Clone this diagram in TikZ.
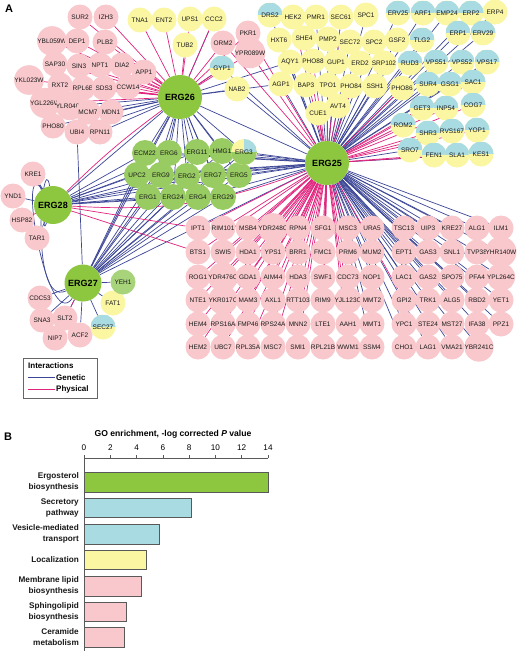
\documentclass[tikz,border=0pt]{standalone}
\usepackage{fontspec}
\setmainfont{Liberation Sans}
\usetikzlibrary{backgrounds}
\pgfdeclarelayer{edges}
\pgfsetlayers{background,edges,main}
\definecolor{cpk}{HTML}{F8C8CC}
\definecolor{cyl}{HTML}{FAF6A2}
\definecolor{ccy}{HTML}{A8DBE2}
\definecolor{cgr}{HTML}{8DC63F}
\definecolor{cgrl}{HTML}{98CB62}
\definecolor{cgen}{HTML}{3C4696}
\definecolor{cphy}{HTML}{E1237D}
\begin{document}
\begin{tikzpicture}[x=1pt,y=-1pt,
 gn/.style={circle,inner sep=0pt,minimum size=25pt,font=\fontsize{6.5}{7}\selectfont,text=black!90},
 pkn/.style={gn,fill=cpk},
 yln/.style={gn,fill=cyl},
 cyn/.style={gn,fill=cyl,path picture={\fill[ccy] (path picture bounding box.west) rectangle (path picture bounding box.north east);}},
 grn/.style={gn,fill=cgrl,minimum size=26pt},
 hub/.style={circle,inner sep=0pt,fill=cgr,font=\fontsize{9}{10}\selectfont\bfseries,text=black},
 gen/.style={draw=cgen,line width=0.7pt},
 phy/.style={draw=cphy,line width=0.7pt},
 lab/.style={font=\fontsize{8.2}{11}\selectfont\bfseries,align=right,anchor=east,text=black!90,inner sep=1pt},
 barst/.style={draw=black!65,line width=0.7pt},
 axisln/.style={draw=black!65,line width=0.7pt},
 legtx/.style={font=\fontsize{8}{9}\selectfont\bfseries,anchor=west,inner sep=1pt}
]
\begin{pgfonlayer}{background}
\fill[white] (0,0) rectangle (520,653);
\end{pgfonlayer}
\useasboundingbox (0,0) rectangle (520,653);

% ---------- panel labels
\node[font=\fontsize{11}{12}\selectfont\bfseries] (pA) at (9,9) {A};
\node[font=\fontsize{11}{12}\selectfont\bfseries] (pB) at (8,437) {B};

% ---------- pink nodes
\foreach \n/\x/\y in {SUR2/80/17, IZH3/106/17, YBL059W/52/41, DEP1/77/41, PLB2/105/42,
  SAP30/55/64, SIN3/79/66, NPT1/100/65, DIA2/122/65, APP1/144/72,
  YKL023W/29/80, RXT2/60/85, RPL6B/83/88, SDS3/104/88, CCW14/128/87,
  YGL226W/45/103, YLR040C/70/106, MCM7/88/112, MDN1/111/112,
  PHO80/53/126, UBI4/77/132, RPN11/100/132,
  ORM2/223/43, PKR1/248/33, YPR089W/250/53,
  KRE1/33/174, YND1/13/196, HSP82/22/220, TAR1/37/238,
  CDC53/40/298, SNA3/42/320, SLT2/65/318, NIP7/55/338, ACF2/80/335}
  \node[pkn] (\n) at (\x,\y) {\n};

\foreach \n/\x in {IPT1/198, RIM101/223, MSB4/248, YDR248C/273, RPN4/298, SFG1/323, MSC3/348, URA5/372, TSC13/404, UIP3/428, KRE27/452, ALG1/477, ILM1/501}
  \node[pkn] (\n) at (\x,228) {\n};
\foreach \n/\x in {BTS1/198, SWI5/223, HDA1/248, YPS1/273, BRR1/298, FMC1/323, PRM6/348, MUM2/372, EPT1/404, GAS3/428, SNL1/452, TVP38/477, YHR140W/501}
  \node[pkn] (\n) at (\x,252) {\n};
\foreach \n/\x in {ROG1/198, YDR476C/223, GDA1/248, AIM44/273, HDA3/298, SWF1/323, CDC73/348, NOP1/372, LAC1/404, GAS2/428, SPO75/452, PFA4/477, YPL264C/501}
  \node[pkn] (\n) at (\x,277) {\n};
\foreach \n/\x in {NTE1/198, YKR017C/223, MAM3/248, AXL1/273, RTT103/298, RIM9/323, YJL123C/348, MMT2/372, GPI2/404, TRK1/428, ALG5/452, RBD2/477, YET1/501}
  \node[pkn] (\n) at (\x,300) {\n};
\foreach \n/\x in {HEM4/198, RPS16A/223, FMP46/248, RPS24A/273, MNN2/298, LTE1/323, AAH1/348, MMT1/372, YPC1/404, STE24/428, MST27/452, IFA38/477, PPZ1/501}
  \node[pkn] (\n) at (\x,324) {\n};
\foreach \n/\x in {HEM2/198, UBC7/223, RPL35A/248, MSC7/273, SMI1/298, RPL21B/323, WWM1/348, SSM4/372, CHO1/404, LAG1/428, VMA21/452, YBR241C/479}
  \node[pkn] (\n) at (\x,347) {\n};

% ---------- yellow nodes
\foreach \n/\x/\y in {TNA1/140/20, ENT2/164/20, UPS1/190/19, CCC2/214/19, TUB2/185/45, NAB2/237/89,
  HEK2/293/17, PMR1/316/17, SEC61/341/17, SPC1/366/15,
  HXT6/279/40, SHE4/304/38, PMP2/328/39, SEC72/350/42, SPC2/374/42, GSF2/397/40,
  AQY1/290/62, PHO88/313/61, GUP1/336/62, ERD2/360/63, SRP102/384/63,
  AGP1/281/84, BAP3/306/85, TPO1/328/85, PHO84/351/86, SSH1/375/86, PHO86/402/88,
  CUE1/318/113, AVT4/338/106, FAT1/113/303, ERP4/495/12}
  \node[yln] (\n) at (\x,\y) {\n};

% ---------- cyan/yellow nodes
\foreach \n/\x/\y in {DRS2/270/15, GYP1/222/68, SEC27/103/327,
  ERV25/398/13, ARF1/423/13, EMP24/447/13, ERP2/471/13,
  TLG2/422/40, ERP1/458/33, ERV29/483/33,
  RUD3/410/63, VPS51/436/62, VPS52/462/62, VPS17/487/62,
  SUR4/428/84, GSG1/450/84, SAC1/473/82,
  GET3/422/108, INP54/446/108, COG7/473/105,
  ROM2/403/125, SHR3/428/133, RVS167/452/131, YOP1/477/130,
  SRO7/410/150, FEN1/434/155, SLA1/457/155, KES1/481/154}
  \node[cyn] (\n) at (\x,\y) {\n};

% ---------- green cluster
\foreach \n/\x/\y in {ECM22/145/153, ERG6/169/153, ERG11/197/152, HMG1/222/151,
  UPC2/137/175, ERG9/161/175, ERG2/187/176, ERG7/213/175, ERG5/239/175,
  ERG1/148/197, ERG24/173/197, ERG4/198/197, ERG29/223/197}
  \node[grn] (\n) at (\x,\y) {\n};
\node[grn,fill=cyl,path picture={\fill[cgrl] (path picture bounding box.west) rectangle (path picture bounding box.south east);
  \fill[ccy] (path picture bounding box.center) rectangle (path picture bounding box.north east);}] (ERG3) at (244,152) {ERG3};
\node[gn,fill=cgrl!85!white] (YEH1) at (123,282) {YEH1};

% ---------- hubs
\node[hub,minimum size=44pt] (ERG26) at (180,97) {ERG26};
\node[hub,minimum size=44pt] (ERG25) at (327,163) {ERG25};
\node[hub,minimum size=38pt] (ERG28) at (53,205) {ERG28};
\node[hub,minimum size=37pt] (ERG27) at (83,283) {ERG27};

% ---------- edges
\begin{pgfonlayer}{edges}
% genetic
\foreach \t in {YLR040C, MCM7, MDN1, PHO80, UBI4, RPN11, NAB2, GYP1, CCC2, ECM22, ERG6, ERG11, UPC2, ERG9, ERG2, ERG7, ERG5, ERG1, ERG24, ERG4, ERG29, HMG1, ERG3, ERG25, ERG28, ERG27, AQY1, AGP1}
  \draw[gen] (ERG26) -- (\t);
\foreach \t in {DRS2, PMR1, SEC61, SPC1, HXT6, PMP2, SEC72, SPC2, GSF2, AQY1, GUP1, ERD2, SRP102, AGP1, BAP3, PHO84, SSH1, CUE1, NAB2, GYP1,
  ERV25, ARF1, EMP24, ERP2, ERP4, TLG2, ERP1, ERV29, RUD3, VPS51, VPS52, VPS17, GSG1, SRO7, KES1, SUR4,
  ERG3, ERG5, HMG1, ERG11, ERG7, ERG29, ERG4, ERG2, ERG6, ERG9, ERG28, ERG27, ECM22, UPC2,
  URA5, MUM2, NOP1, MMT2, MMT1, SSM4, TSC13, UIP3, KRE27, ALG1, ILM1, EPT1, GAS3, SNL1, TVP38, YHR140W,
  LAC1, GAS2, SPO75, PFA4, YPL264C, TRK1, ALG5, RBD2, YET1, YPC1, STE24, MST27, IFA38, PPZ1, CHO1, LAG1, VMA21, YBR241C}
  \draw[gen] (ERG25) -- (\t);
\foreach \t in {KRE1, YND1, TAR1, ECM22, UPC2, ERG9, ERG1, ERG24, ERG2, ERG6, ERG11, ERG7, ERG4}
  \draw[gen] (ERG28) -- (\t);
\foreach \t in {YEH1, FAT1, SEC27, CDC53, SNA3, ACF2, NIP7, UBI4, ERG1, ERG24, ERG4, ERG29, ERG2, ERG7, ERG5, ERG9, UPC2, ECM22, ERG6, ERG11, HMG1, ERG3}
  \draw[gen] (ERG27) -- (\t);
\draw[gen] (KRE1) to[out=300,in=250] (ERG28);
\draw[gen] (ERG27) to[out=205,in=100] (ERG28);
\draw[gen] (ERG27) to[out=235,in=125] (ERG28);

% physical
\foreach \t in {SUR2, IZH3, YBL059W, DEP1, PLB2, SAP30, SIN3, NPT1, DIA2, APP1, YKL023W, RXT2, RPL6B, SDS3, CCW14, YGL226W, TNA1, ENT2, UPS1, CCC2, TUB2, ORM2, PKR1, YPR089W, GYP1}
  \draw[phy] (ERG26) -- (\t);
\foreach \t in {HEK2, SHE4, PHO88, TPO1, AVT4, CUE1, SEC61, ERD2, ORM2, PKR1, YPR089W,
  PHO86, SAC1, GET3, INP54, COG7, ROM2, SHR3, RVS167, YOP1, FEN1, SLA1,
  IPT1, RIM101, MSB4, YDR248C, RPN4, SFG1, BTS1, SWI5, HDA1, YPS1, BRR1, FMC1,
  ROG1, YDR476C, GDA1, AIM44, HDA3, SWF1, NTE1, YKR017C, MAM3, AXL1, RTT103, RIM9,
  HEM4, RPS16A, FMP46, RPS24A, MNN2, LTE1, HEM2, UBC7, RPL35A, MSC7, SMI1, RPL21B,
  MSC3, PRM6, CDC73, YJL123C, AAH1, WWM1, GPI2}
  \draw[phy] (ERG25) -- (\t);
\foreach \t in {HSP82, IPT1, BTS1}
  \draw[phy] (ERG28) -- (\t);
\draw[phy] (ERG28) to[bend left=4] (ERG26);
\draw[phy] (ERG28) to[bend right=12] (ERG25);
\draw[phy] (ERG27) -- (SLT2);
\end{pgfonlayer}

% ---------- legend
\node[draw=black!60,line width=0.6pt,minimum width=74pt,minimum height=40pt,anchor=north west,inner sep=0pt] (leg) at (23,358) {};
\node[legtx] (legt) at (27,365.5) {Interactions};
\coordinate (g1) at (28,377.5); \coordinate (g2) at (55,377.5);
\coordinate (p1) at (28,389.5); \coordinate (p2) at (55,389.5);
\node[legtx] (legg) at (g2) {Genetic};
\node[legtx] (legp) at (p2) {Physical};
\draw[cgen,line width=1.6pt] (g1) -- (legg.west);
\draw[cphy,line width=1.6pt] (p1) -- (legp.west);

% ---------- panel B chart
\node[font=\fontsize{8.6}{9}\selectfont\bfseries] (title) at (173,434) {GO enrichment, -log corrected \textit{P} value};
\draw[axisln] (84,458) -- (268,458);
\draw[axisln] (84,458) -- (84,651);
\foreach \v in {0,2,...,14} {
  \draw[axisln] ({84+\v*13.143},458) -- ({84+\v*13.143},454.5);
  \node[font=\fontsize{8.2}{9}\selectfont] (tk\v) at ({84+\v*13.143},447.5) {\v};
}
\draw[barst,fill=cgr] (84,472) rectangle (268,492);
\draw[barst,fill=ccy] (84,498) rectangle (191,517);
\draw[barst,fill=ccy] (84,524) rectangle (159,544);
\draw[barst,fill=cyl] (84,550) rectangle (146,569);
\draw[barst,fill=cpk] (84,576) rectangle (141,596);
\draw[barst,fill=cpk] (84,602) rectangle (126,621);
\draw[barst,fill=cpk] (84,627) rectangle (124,647);
\node[lab] (l1) at (80,482) {Ergosterol\\biosynthesis};
\node[lab] (l2) at (80,507.5) {Secretory\\pathway};
\node[lab] (l3) at (80,534) {Vesicle-mediated\\transport};
\node[lab] (l4) at (80,559.5) {Localization};
\node[lab] (l5) at (80,586) {Membrane lipid\\biosynthesis};
\node[lab] (l6) at (80,611.5) {Sphingolipid\\biosynthesis};
\node[lab] (l7) at (80,637) {Ceramide\\metabolism};
\end{tikzpicture}
\end{document}
